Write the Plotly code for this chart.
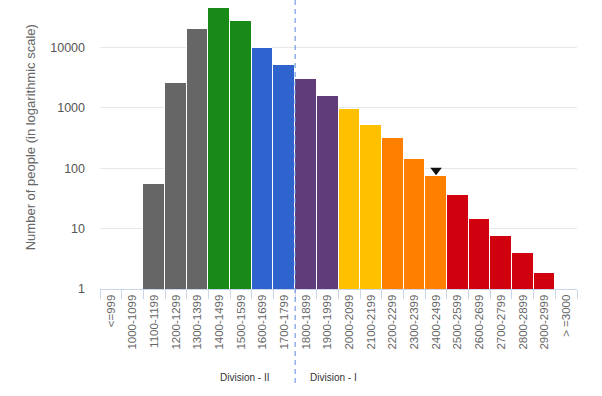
import plotly.graph_objects as go

categories = ["<=999", "1000-1099", "1100-1199", "1200-1299", "1300-1399",
              "1400-1499", "1500-1599", "1600-1699", "1700-1799", "1800-1899",
              "1900-1999", "2000-2099", "2100-2199", "2200-2299", "2300-2399",
              "2400-2499", "2500-2599", "2600-2699", "2700-2799", "2800-2899",
              "2900-2999", "> =3000"]
counts = [None, None, 55, 2580, 20600, 45900, 27300, 9850, 5090, 3020,
          1580, 950, 530, 314, 141, 74.5, 36, 14.5, 7.5, 3.9, 1.87, None]
bar_colors = ["#666666"] * 5 + ["#178a17"] * 2 + ["#2f64cf"] * 2 + ["#603c7a"] * 2 \
    + ["#ffc000"] * 2 + ["#ff8000"] * 3 + ["#d1000f"] * 5 + ["#666666"]
marker_category = "2400-2499"
marker_value = 93
ytick_vals = [1, 10, 100, 1000, 10000]
ytick_text = ["1", "10", "100", "1000", "10000"]
division_labels = ["Division - II", "Division - I"]

fig = go.Figure()
fig.add_trace(go.Bar(
    x=categories, y=counts,
    marker=dict(color=bar_colors, line=dict(color="white", width=1)),
    hoverinfo="x+y", showlegend=False,
))
fig.add_trace(go.Scatter(
    x=[marker_category], y=[marker_value], mode="markers",
    marker=dict(symbol="triangle-down", size=10, color="#111111"),
    showlegend=False,
))

fig.update_layout(
    width=602, height=396,
    margin=dict(l=100, r=25, t=0, b=107),
    plot_bgcolor="white", paper_bgcolor="white",
    bargap=0,
    font=dict(family="Liberation Sans, Arial, sans-serif", color="#666666"),
    xaxis=dict(
        type="category", tickangle=-90, tickfont=dict(size=11.5, color="#666666"),
        showline=True, linecolor="#ccd6eb", linewidth=1,
        ticks="outside", tickson="boundaries", ticklen=9, tickcolor="#ccd6eb",
        showgrid=False, range=[-0.5, len(categories) - 0.5],
    ),
    yaxis=dict(
        type="log", range=[0, 4.789],
        tickvals=ytick_vals, ticktext=ytick_text,
        tickfont=dict(size=12.5, color="#555555"),
        gridcolor="#e8e8e8", showline=False, zeroline=False,
        ticklabelstandoff=14,
    ),
)

fig.add_annotation(
    text="Number of people (in logarithmic scale)", textangle=-90,
    xref="paper", yref="paper", x=(30 - 100) / 477, y=0.525,
    xanchor="center", yanchor="middle", showarrow=False,
    font=dict(size=13, color="#666666"),
)
fig.add_shape(
    type="line", xref="x", yref="paper", x0=8.5, x1=8.5, y0=1, y1=-0.33,
    line=dict(color="#5b86d9", width=1, dash="5px,4px"),
)
for lbl, px in zip(division_labels, [0.302, 0.49]):
    fig.add_annotation(
        text=lbl, xref="paper", yref="paper", x=px, y=-0.306,
        xanchor="center", yanchor="middle", showarrow=False,
        font=dict(size=10, color="#333333"),
    )

fig.write_html("out.html", config={"displayModeBar": False},
               post_script="document.body.style.margin='0';")
